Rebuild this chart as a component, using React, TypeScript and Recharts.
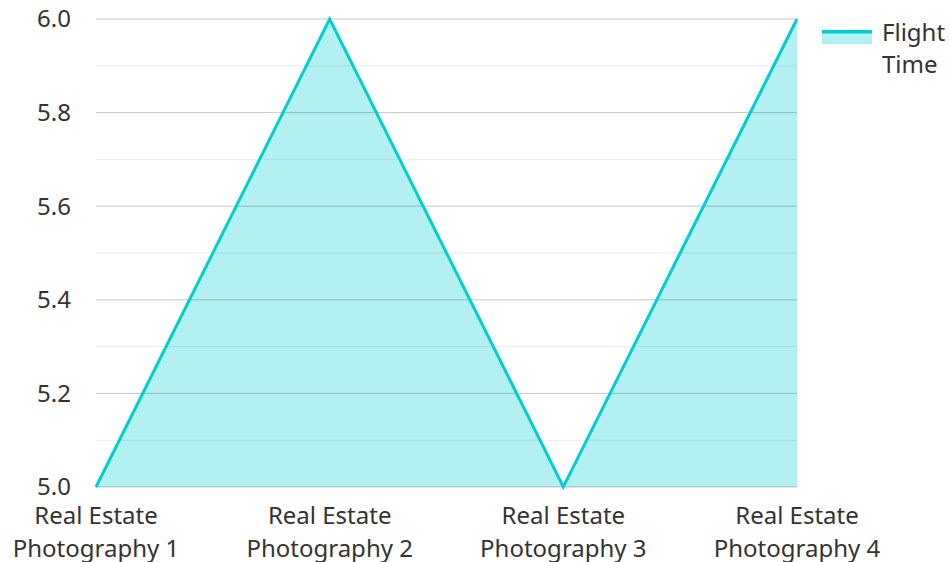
import React from "react";
import {
  ComposedChart,
  Area,
  Line,
  XAxis,
  YAxis,
  ReferenceLine,
} from "recharts";

const categories = [
  "Real Estate\nPhotography 1",
  "Real Estate\nPhotography 2",
  "Real Estate\nPhotography 3",
  "Real Estate\nPhotography 4",
];
const flightTime = [5.0, 6.0, 5.0, 6.0];
const majorTicks = [5.0, 5.2, 5.4, 5.6, 5.8, 6.0];
const minorTicks = [5.1, 5.3, 5.5, 5.7, 5.9];
const seriesName = "Flight Time";

const FONT = "'Noto Sans', 'Open Sans', sans-serif";
const TEXT = "#333333";
const LINE = "#00ced1";
const FILL = "#b2f0f1";

const chartData = categories.map((c, i) => ({ name: c, value: flightTime[i] }));

function XTick(props: any) {
  const { x, y, payload } = props;
  const lines = String(payload.value).split("\n");
  return (
    <text x={x} y={y + 29} textAnchor="middle" fill={TEXT} fontSize={24} fontFamily={FONT}>
      {lines.map((l, i) => (
        <tspan key={i} x={x} dy={i === 0 ? 0 : 33}>
          {l}
        </tspan>
      ))}
    </text>
  );
}

function YTick(props: any) {
  const { x, y, payload } = props;
  return (
    <text x={x + 1} y={y} dy="0.35em" textAnchor="end" fill={TEXT} fontSize={24} fontFamily={FONT}>
      {Number(payload.value).toFixed(1)}
    </text>
  );
}

function LegendBox() {
  const [first, second] = seriesName.split(" ");
  return (
    <div
      style={{
        position: "absolute",
        left: 822,
        top: 0,
        display: "flex",
        alignItems: "flex-start",
        fontFamily: FONT,
        fontSize: 24,
        color: TEXT,
      }}
    >
      <svg width={50} height={16} style={{ marginTop: 30, marginRight: 10, flexShrink: 0 }}>
        <rect x={0} y={1} width={50} height={13} fill={FILL} />
        <rect x={0} y={0} width={50} height={3.5} fill={LINE} />
      </svg>
      <div style={{ lineHeight: "32px", marginTop: 16 }}>
        {first}
        <br />
        {second}
      </div>
    </div>
  );
}

export default function App() {
  return (
    <div style={{ position: "absolute", left: 0, top: 0, width: 951, height: 562, background: "#fff" }}>
      <ComposedChart
        width={951}
        height={562}
        data={chartData}
        margin={{ top: 19, right: 154, left: 0, bottom: 0 }}
      >
        <XAxis
          dataKey="name"
          tick={<XTick />}
          tickLine={false}
          axisLine={false}
          interval={0}
          height={75}
        />
        <YAxis
          domain={[5, 6]}
          ticks={majorTicks}
          tick={<YTick />}
          tickLine={false}
          axisLine={false}
          width={96}
          tickMargin={0}
          tickSize={26}
        />
        <Area
          type="linear"
          dataKey="value"
          name={seriesName}
          fill={FILL}
          fillOpacity={1}
          stroke="none"
          baseValue={5}
          isAnimationActive={false}
          legendType="none"
        />
        {minorTicks.map((t) => (
          <ReferenceLine key={"m" + t} y={t} stroke="rgba(0,0,0,0.08)" strokeWidth={1} />
        ))}
        {majorTicks.map((t) => (
          <ReferenceLine key={"M" + t} y={t} stroke="rgba(0,0,0,0.22)" strokeWidth={1} />
        ))}
        <Line
          type="linear"
          dataKey="value"
          name={seriesName}
          stroke={LINE}
          strokeWidth={3}
          dot={false}
          activeDot={false}
          isAnimationActive={false}
        />
      </ComposedChart>
      <LegendBox />
    </div>
  );
}
